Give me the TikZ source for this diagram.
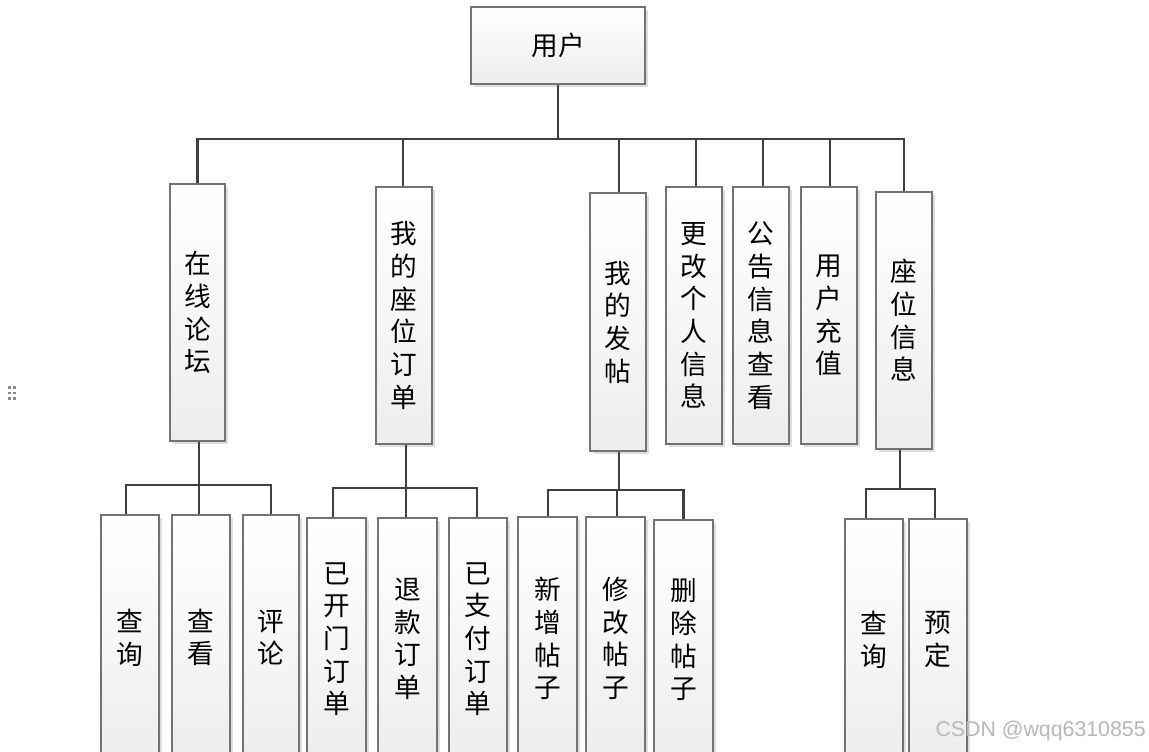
\documentclass[tikz,border=0pt]{standalone}
\usepackage{fontspec}
\newfontfamily\cjk{Noto Sans CJK SC}
\usetikzlibrary{shadows}
\begin{document}
\begin{tikzpicture}[x=0.75pt,y=-0.75pt,
  box/.style 2 args={draw=black!55, line width=0.9pt, rectangle, top color=white, bottom color=black!7,
     minimum width=#1*0.75pt, minimum height=#2*0.75pt, inner sep=0pt, align=center,
     font=\cjk\fontsize{20}{24.5}\selectfont,
     drop shadow={shadow xshift=2.5pt, shadow yshift=-2.5pt, fill=black!13, opacity=1}},
  conn/.style={draw=black!75, line width=1.7pt},
  dot/.style={fill=black!45, minimum size=2pt, inner sep=0pt, draw=none}]
\useasboundingbox (0,0) rectangle (1149,751);
\clip (0,0) rectangle (1149,751);
\fill[white] (0,0) rectangle (1149,751);

% root
\node[box={174}{77}] (u) at (558,45.5) {用户};

% level 2
\node[box={55}{257}] (zx) at (197.5,312.5) {在\\线\\论\\坛};
\node[box={56}{257}] (wd) at (404,315.5) {我\\的\\座\\位\\订\\单};
\node[box={56}{258}] (ft) at (618,322) {我\\的\\发\\帖};
\node[box={56}{257}] (gg) at (694,315.5) {更\\改\\个\\人\\信\\息};
\node[box={56}{257}] (gk) at (761,315.5) {公\\告\\信\\息\\查\\看};
\node[box={56}{257}] (cz) at (829,315.5) {用\\户\\充\\值};
\node[box={56}{257}] (zw) at (904,320.5) {座\\位\\信\\息};

% level 3
\node[box={58}{245}] (z1) at (130,637.5) {查\\询};
\node[box={58}{245}] (z2) at (201,637.5) {查\\看};
\node[box={56}{245}] (z3) at (271,637.5) {评\\论};
\node[box={59}{242}] (w1) at (336.5,639) {已\\开\\门\\订\\单};
\node[box={59}{242}] (w2) at (407.5,639) {退\\款\\订\\单};
\node[box={58}{242}] (w3) at (478,639) {已\\支\\付\\订\\单};
\node[box={59}{243}] (f1) at (547.5,638.5) {新\\增\\帖\\子};
\node[box={59}{243}] (f2) at (615.5,638.5) {修\\改\\帖\\子};
\node[box={59}{240}] (f3) at (683.5,640) {删\\除\\帖\\子};
\node[box={58}{241}] (s1) at (874,639.5) {查\\询};
\node[box={58}{241}] (s2) at (938,639.5) {预\\定};

% connectors root
\draw[conn] (u.south) -- (u.south |- 0,139) coordinate (ub);
\foreach \c/\dx in {zx/0,wd/-0.75,ft/0.75,gg/1.5,gk/1.5,cz/0.75,zw/0}
  \draw[conn] ([xshift=\dx pt]\c.north) |- (ub);
% connectors level 3
\draw[conn] ([xshift=1.1pt]zx.south) -- ([xshift=1.1pt]zx.south |- 0,485) coordinate (zb);
\foreach \c/\dx in {z1/-3,z2/-1.5,z3/0}
  \draw[conn] ([xshift=\dx pt]\c.north) |- (zb);
\draw[conn] ([xshift=1.5pt]wd.south) -- ([xshift=1.5pt]wd.south |- 0,488) coordinate (wb);
\foreach \c/\dx in {w1/-2.6,w2/-1.1,w3/-0.75}
  \draw[conn] ([xshift=\dx pt]\c.north) |- (wb);
\draw[conn] ([xshift=0.75pt]ft.south) -- ([xshift=0.75pt]ft.south |- 0,490) coordinate (fb);
\foreach \c/\dx in {f1/0.4,f2/1.1,f3/0}
  \draw[conn] ([xshift=\dx pt]\c.north) |- (fb);
\draw[conn] ([xshift=-3pt]zw.south) -- ([xshift=-3pt]zw.south |- 0,489) coordinate (sb);
\foreach \c/\dx in {s1/-6,s2/-2.2}
  \draw[conn] ([xshift=\dx pt]\c.north) |- (sb);

% handle dots
\foreach \yy in {387.5,393,398.5} {
  \node[dot] (d1\yy) at (9.5,\yy) {};
  \node[dot] (d2\yy) at (14.5,\yy) {};
}

% watermark
\node[anchor=east, text=black!28, font=\fontspec{Liberation Sans}\fontsize{16}{18}\selectfont, inner sep=0pt] (wm) at (1146,731) {CSDN @wqq6310855};
\end{tikzpicture}
\end{document}
